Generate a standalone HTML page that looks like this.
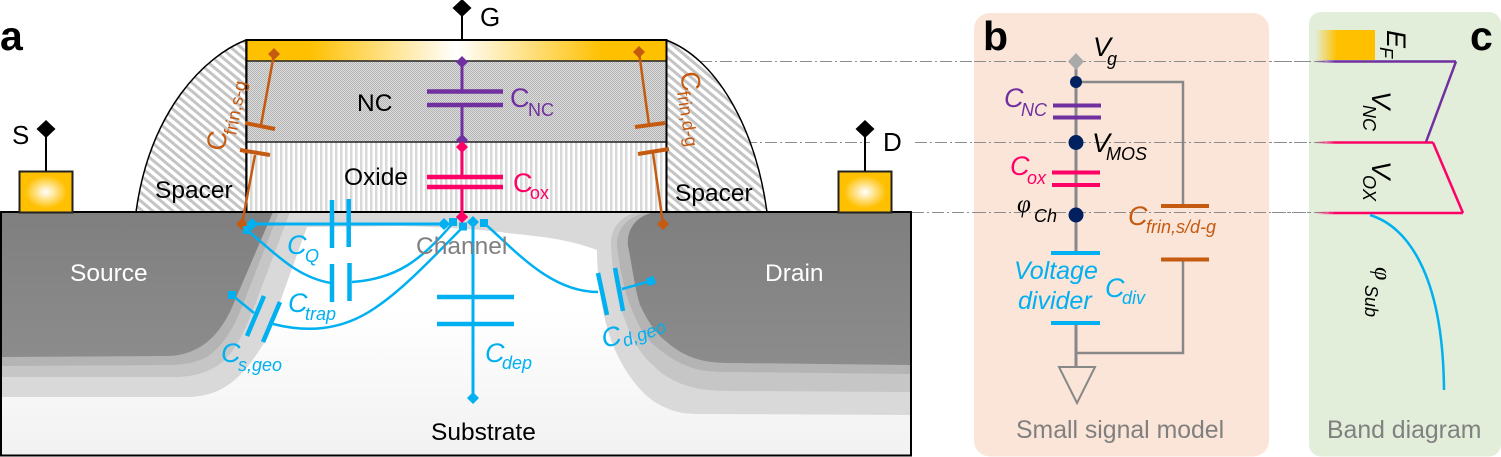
<!DOCTYPE html>
<html><head><meta charset="utf-8"><style>
html,body{margin:0;padding:0;background:#fff}
svg{display:block}
text{font-family:"Liberation Sans",sans-serif}
.i{font-style:italic}
.b{font-weight:bold;font-size:41px;fill:#000}
.k{font-size:24.5px;fill:#000}
.w{font-size:24.5px;fill:#fff}
.g{font-size:24.8px;fill:#808080}
.c{font-style:italic;font-size:27px}
.s{font-style:italic;font-size:18px}
.blue{fill:#00b0f0}.or{fill:#c55a11}.pu{fill:#7030a0}.pk{fill:#ff0066}
</style></head><body>
<svg width="1501" height="457" viewBox="0 0 1501 457" xmlns="http://www.w3.org/2000/svg">
<defs>
<linearGradient id="sub" x1="0" y1="0" x2="0" y2="1"><stop offset="0" stop-color="#fff"/><stop offset=".4" stop-color="#fff"/><stop offset="1" stop-color="#f1f1f1"/></linearGradient>
<linearGradient id="dk" x1="0" y1="0" x2="0" y2="1"><stop offset="0" stop-color="#7f7f7f"/><stop offset="1" stop-color="#8c8c8c"/></linearGradient>
<linearGradient id="gate" gradientUnits="userSpaceOnUse" x1="246" y1="0" x2="666" y2="0"><stop offset="0" stop-color="#ffc000"/><stop offset=".15" stop-color="#ffc000"/><stop offset=".5" stop-color="#fff"/><stop offset=".85" stop-color="#ffc000"/><stop offset="1" stop-color="#ffc000"/></linearGradient>
<radialGradient id="pad"><stop offset="0" stop-color="#fff"/><stop offset=".8" stop-color="#ffc000"/><stop offset="1" stop-color="#ffc000"/></radialGradient>
<linearGradient id="ef" gradientUnits="userSpaceOnUse" x1="1315" y1="0" x2="1337" y2="0"><stop offset="0" stop-color="#ffc000" stop-opacity="0"/><stop offset="1" stop-color="#ffc000"/></linearGradient>
<linearGradient id="fpu" gradientUnits="userSpaceOnUse" x1="1315" y1="0" x2="1335" y2="0"><stop offset="0" stop-color="#7030a0" stop-opacity="0"/><stop offset="1" stop-color="#7030a0"/></linearGradient>
<linearGradient id="fpk" gradientUnits="userSpaceOnUse" x1="1315" y1="0" x2="1335" y2="0"><stop offset="0" stop-color="#ff0066" stop-opacity="0"/><stop offset="1" stop-color="#ff0066"/></linearGradient>
<pattern id="hatch" width="6.500" height="6.500" patternUnits="userSpaceOnUse" patternTransform="rotate(-50)"><rect width="6.500" height="6.500" fill="#fff"/><rect width="3" height="6.500" fill="#c4c4c4"/></pattern>
<pattern id="ox" width="5" height="5" patternUnits="userSpaceOnUse"><rect width="5" height="5" fill="#fff"/><rect width="2.500" height="5" fill="#d9d9d9"/></pattern>
<pattern id="nc" width="2" height="2" patternUnits="userSpaceOnUse"><rect width="2" height="2" fill="#dcdcdc"/><rect width="1" height="1" fill="#b4b4b4"/><rect x="1" y="1" width="1" height="1" fill="#b4b4b4"/></pattern>
</defs>

<!-- substrate -->
<rect x="1" y="212" width="910" height="243.500" fill="url(#sub)"/>
<!-- lightest band: source, channel, drain as one shape -->
<path d="M1 212H910V415L700 414C680 414 672 411 660 405C640 395 622 368 613 345C601 315 597 275 597 250C565 238 535 236 507 233C480 229 440 227 400 226L307 227L267 338C260 350 250 365 240 375C230 385 215 396 190 397L1 397Z" fill="#d9d9d9"/>
<path d="M1 212H290L253 310C243 335 232 358 215 367C200 376 185 377 170 377L1 377Z" fill="#c6c6c6"/>
<path d="M1 212H279L240 312C232 330 222 348 205 358C192 364 180 365 165 365L1 366Z" fill="#b4b4b4"/>
<path d="M1 212H273L233 305C226 322 215 338 200 347C188 354 178 356 165 356L1 357Z" fill="url(#dk)"/>
<path d="M910 212H640C622 214 610 228 611 246C612 265 615 290 622 312C630 335 640 355 653 365C665 378 680 385 700 389C715 391 725 391 735 391L910 392Z" fill="#c6c6c6"/>
<path d="M910 212H650C630 214 616 228 617 246C620 270 625 295 633 312C642 335 652 345 663 352C675 362 688 367 700 370C715 372 725 372 735 372L910 374Z" fill="#b4b4b4"/>
<path d="M910 212H657C638 214 626 228 628 246C632 265 635 290 640 305C648 322 657 335 667 342C678 352 690 358 705 361C715 363 725 363 735 363L910 365Z" fill="url(#dk)"/>
<rect x="1" y="212" width="910" height="243.500" fill="none" stroke="#000" stroke-width="2"/>

<!-- guide lines -->
<g stroke="#8c8c8c" stroke-width="1" stroke-dasharray="12 3 2 3" fill="none">
<path d="M680 61.500H1325"/><path d="M745 142.500H870M915 142.500H1325"/><path d="M912 212.500H1405"/>
</g>

<!-- spacers -->
<path d="M246 40C205 56 150 110 136 212H246Z" fill="url(#hatch)" stroke="#000" stroke-width="1.500"/>
<path d="M666 40C715 58 755 125 767 212H666Z" fill="url(#hatch)" stroke="#000" stroke-width="1.500"/>

<!-- gate stack -->
<rect x="246.500" y="142" width="420" height="70" fill="url(#ox)"/>
<rect x="246.500" y="61" width="420" height="81" fill="url(#nc)"/>
<rect x="246.500" y="40" width="420" height="21" fill="url(#gate)"/>
<path d="M246.500 61H666.500M246.500 142H666.500" stroke="#222" stroke-width="1.500"/>
<rect x="246.500" y="40" width="420" height="172" fill="none" stroke="#000" stroke-width="2"/>
<path d="M0 212H912" stroke="#000" stroke-width="2"/>

<!-- contacts -->
<rect x="19.500" y="171.500" width="53" height="41" fill="url(#pad)" stroke="#222" stroke-width="2"/>
<rect x="838.500" y="171.500" width="53" height="41" fill="url(#pad)" stroke="#222" stroke-width="2"/>
<path d="M46 130V171M865 130V171M462 8V40" stroke="#000" stroke-width="2"/>
<path d="M46 120l9.500 9-9.500 9-9.500-9zM865 120l9.500 9-9.500 9-9.500-9zM462 -1l9.500 9-9.500 9-9.500-9z" fill="#000"/>

<!-- NC / Ox caps -->
<g fill="none">
<path d="M462 62V92M462 105V140" stroke="#7030a0" stroke-width="3"/>
<path d="M427 91.500H503M427 105H503" stroke="#7030a0" stroke-width="4.500"/>
<path d="M462 147V177M462 187V217" stroke="#ff0066" stroke-width="3"/>
<path d="M427 177H503M427 187H503" stroke="#ff0066" stroke-width="4.500"/>
</g>
<path d="M462 56l6 6-6 6-6-6zM462 134l6 6-6 6-6-6z" fill="#7030a0"/>
<path d="M462 141l6 6-6 6-6-6zM462 211l6 6-6 6-6-6z" fill="#ff0066"/>

<!-- orange fringe caps -->
<g stroke="#c55a11" fill="none">
<path d="M274 54L261 125M255 155L242 224M639 52L649 125M653 153L663 224" stroke-width="2.500"/>
<path d="M245 123L275 129M240 150L270 155M635 127L665 123M638 154L669 149" stroke-width="4"/>
</g>
<path d="M274 48l6 6-6 6-6-6zM242 218l6 6-6 6-6-6zM639 46l6 6-6 6-6-6zM663 218l6 6-6 6-6-6z" fill="#c55a11"/>

<!-- blue caps -->
<g stroke="#00b0f0" fill="none">
<path d="M252 224H444" stroke-width="3"/>
<path d="M332 200V248M348.700 199V247M332 264V302M349.500 263V301" stroke-width="4.500"/>
<path d="M248 231C272 250 295 277 331 283" stroke-width="2.500"/>
<path d="M352 282C395 279 420 262 453 223" stroke-width="2.500"/>
<path d="M273 324C305 332 340 332 375 308C405 288 435 255 463 227" stroke-width="2.500"/>
<path d="M264 296L247 336M280 302L263 342" stroke-width="4.500"/>
<path d="M232 295L254 313" stroke-width="2.500"/>
<path d="M473 224V398" stroke-width="3"/>
<path d="M437 297H514M437 324H514" stroke-width="4.500"/>
<path d="M484 223C515 250 550 292 598 292" stroke-width="2.500"/>
<path d="M598 273L607 315M615 268L623 311" stroke-width="4.500"/>
<path d="M622 289L651 281" stroke-width="2.500"/>
</g>
<path d="M252 218l6 6-6 6-6-6zM444 218l6 6-6 6-6-6zM473 216l6 6-6 6-6-6zM473 392l6 6-6 6-6-6z" fill="#00b0f0"/>
<rect x="243" y="226" width="8" height="8" fill="#00b0f0"/>
<rect x="449" y="218" width="8" height="8" fill="#00b0f0"/>
<rect x="459" y="222.500" width="8" height="8" fill="#00b0f0"/>
<rect x="480" y="219" width="8" height="8" fill="#00b0f0"/>
<rect x="228" y="291" width="8" height="8" fill="#00b0f0"/>
<rect x="647" y="277" width="8" height="8" fill="#00b0f0" transform="rotate(-20 651 281)"/>
<path d="M462 211l6 6-6 6-6-6z" fill="#ff0066"/>

<!-- panels -->
<rect x="974" y="13" width="295" height="443.500" rx="16" fill="#fae5d8"/>
<rect x="1309" y="12" width="192" height="444.500" rx="12" fill="#e2eed9"/>
<g stroke="#8c8c8c" stroke-width="1" stroke-dasharray="12 3 2 3" fill="none">
<path d="M974 61.500H1325"/><path d="M974 142.500H1325"/><path d="M974 212.500H1405"/>
</g>

<!-- b circuit -->
<g stroke="#888" fill="none">
<path d="M1076 61V253M1076 323V367" stroke-width="3"/>
<path d="M1076 82H1183V206M1183 259V353H1076" stroke-width="2.500"/>
<path d="M1059 367H1095L1077 403Z" stroke-width="2"/>
</g>
<path d="M1076 53l8 8.500-8 8.500-8-8.500z" fill="#aaa"/>
<circle cx="1076" cy="82" r="6" fill="#002060"/>
<circle cx="1076" cy="142.500" r="7.500" fill="#002060"/>
<circle cx="1076" cy="215" r="7.500" fill="#002060"/>
<path d="M1053 105.500H1101M1053 117.500H1101" stroke="#7030a0" stroke-width="4"/>
<path d="M1052 172.500H1100M1052 185H1100" stroke="#ff0066" stroke-width="4"/>
<path d="M1051 253H1100M1051 323H1100" stroke="#00b0f0" stroke-width="4"/>
<path d="M1161 206H1209M1161 259.500H1209" stroke="#c55a11" stroke-width="4"/>

<!-- c band -->
<rect x="1315" y="30" width="60" height="30" fill="url(#ef)"/>
<path d="M1315 61.500H1456" fill="none" stroke="url(#fpu)" stroke-width="2.500"/>
<path d="M1456 61.500L1426 142" fill="none" stroke="#7030a0" stroke-width="2.500"/>
<path d="M1315 142.500H1433" fill="none" stroke="url(#fpk)" stroke-width="2.500"/>
<path d="M1315 213H1463" fill="none" stroke="url(#fpk)" stroke-width="2.500"/>
<path d="M1433 142.500L1463 213" fill="none" stroke="#ff0066" stroke-width="2.500"/>
<path d="M1370 215C1405 226 1443 270 1444 390" fill="none" stroke="#00b0f0" stroke-width="2.500"/>

<!-- panel letters -->
<text class="b" x="0" y="50">a</text>
<text class="b" x="983" y="50">b</text>
<text class="b" x="1470" y="50">c</text>

<!-- panel a labels -->
<text class="k" x="12" y="144" style="font-size:26px">S</text>
<text class="k" x="480" y="26" style="font-size:26px">G</text>
<text class="k" x="883" y="151" style="font-size:26px">D</text>
<text class="k" x="357" y="111">NC</text>
<text class="k" x="344" y="185">Oxide</text>
<text class="k" x="155" y="198">Spacer</text>
<text class="k" x="675" y="201">Spacer</text>
<text class="w" x="70" y="281">Source</text>
<text class="w" x="765" y="281">Drain</text>
<text class="g" x="416" y="254" style="font-size:24.5px">Channel</text>
<text class="k" x="431" y="440">Substrate</text>

<text class="pu" x="510" y="107" style="font-size:27px">C</text><text class="pu" x="528" y="116" style="font-size:18px">NC</text>
<text class="pk" x="513" y="192" style="font-size:27px">C</text><text class="pk" x="530" y="199" style="font-size:18px">ox</text>

<g class="or">
<text class="or" transform="translate(224 152) rotate(-79)" style="font-size:27px">C</text>
<text class="or" transform="translate(236 136) rotate(-79)" style="font-size:18px">frin,s-g</text>
<text class="or" transform="translate(680 73) rotate(81)" style="font-size:27px">C</text>
<text class="or" transform="translate(677 92) rotate(81)" style="font-size:18px">frin,d-g</text>
</g>

<text class="c blue" x="287" y="254">C</text><text class="s blue" x="305" y="262">Q</text>
<text class="c blue" x="288" y="312">C</text><text class="s blue" x="305" y="320">trap</text>
<text class="c blue" x="221" y="362">C</text><text class="s blue" x="238" y="371">s,geo</text>
<text class="c blue" transform="translate(604 348) rotate(-14)">C</text><text class="s blue" transform="translate(625 347) rotate(-20)">d,geo</text>
<text class="c blue" x="485" y="362">C</text><text class="s blue" x="502" y="369">dep</text>

<!-- panel b labels -->
<text class="c" x="1093" y="56">V</text><text class="s" x="1107" y="65">g</text>
<text class="c pu" x="1004" y="107">C</text><text class="s pu" x="1021" y="116">NC</text>
<text class="c" x="1092" y="152">V</text><text class="s" x="1106" y="160">MOS</text>
<text class="c pk" x="1010" y="175">C</text><text class="s pk" x="1027" y="184">ox</text>
<text x="1017" y="212" style="font-family:'Liberation Serif',serif;font-style:italic;font-size:25px">φ</text><text class="s" x="1034" y="222">Ch</text>
<text class="c or" x="1128" y="225">C</text><text class="s or" x="1146" y="233">frin,s/d-g</text>
<text class="blue i" x="1014" y="279" style="font-size:25px">Voltage</text>
<text class="blue i" x="1018" y="309" style="font-size:25px">divider</text>
<text class="c blue" x="1105" y="297">C</text><text class="s blue" x="1122" y="304">div</text>
<text class="g" x="1016" y="438">Small signal model</text>
<text class="g" x="1327" y="438">Band diagram</text>

<!-- panel c labels -->
<text class="c" transform="translate(1387 30) rotate(90)">E</text>
<text class="s" transform="translate(1380 47) rotate(90)">F</text>
<text class="c" transform="translate(1372 91) rotate(90)">V</text>
<text class="s" transform="translate(1363 105) rotate(90)">NC</text>
<text class="c" transform="translate(1372 161) rotate(90)">V</text>
<text class="s" transform="translate(1363 175) rotate(90)">OX</text>
<text transform="translate(1375 267) rotate(90)" style="font-family:'Liberation Serif',serif;font-style:italic;font-size:24px">φ</text>
<text transform="translate(1365 285) rotate(90)" style="font-style:italic;font-size:18px">Sub</text>
</svg>
</body></html>
